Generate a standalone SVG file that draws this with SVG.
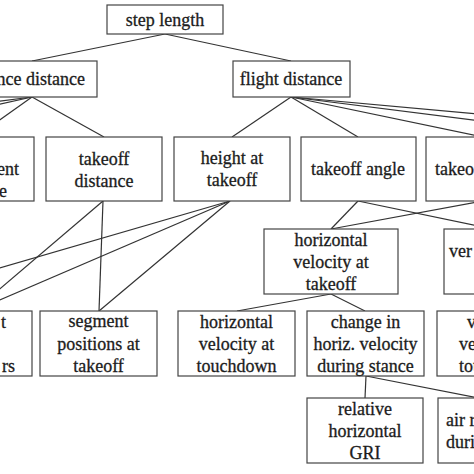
<svg xmlns="http://www.w3.org/2000/svg" width="474" height="474" viewBox="0 0 474 474">
<style>
.box{fill:#fff;stroke:#444;stroke-width:1.2}
.t{font-family:"Liberation Serif","Times New Roman",serif;font-size:18px;fill:#1c1c1c;stroke:#1c1c1c;stroke-width:0.3;text-anchor:middle}
.e{text-anchor:end}
.s{text-anchor:start}
#connectors line{stroke:#333;stroke-width:1.2}
</style>
<rect width="474" height="474" fill="#fff"/>
<g id="connectors">
<line x1="165" y1="34" x2="32" y2="61"/>
<line x1="165" y1="34" x2="291" y2="61"/>
<line x1="32" y1="97" x2="-274" y2="137"/>
<line x1="32" y1="97" x2="-149" y2="137"/>
<line x1="32" y1="97" x2="-24" y2="137"/>
<line x1="32" y1="97" x2="104" y2="137"/>
<line x1="291" y1="97" x2="232" y2="137"/>
<line x1="291" y1="97" x2="358" y2="137"/>
<line x1="291" y1="97" x2="483" y2="137"/>
<line x1="291" y1="97" x2="608" y2="137"/>
<line x1="291" y1="97" x2="733" y2="137"/>
<line x1="103" y1="201" x2="-26" y2="311"/>
<line x1="103" y1="201" x2="99" y2="311"/>
<line x1="230" y1="201" x2="-149" y2="311"/>
<line x1="230" y1="201" x2="-26" y2="311"/>
<line x1="230" y1="201" x2="99" y2="311"/>
<line x1="358" y1="201" x2="331" y2="229"/>
<line x1="358" y1="201" x2="493" y2="229"/>
<line x1="483" y1="201" x2="331" y2="229"/>
<line x1="331" y1="294" x2="237" y2="311"/>
<line x1="331" y1="294" x2="365" y2="311"/>
<line x1="366" y1="376" x2="365" y2="398"/>
<line x1="366" y1="376" x2="478" y2="398"/>
</g>
<g id="step-length"><rect class="box" x="107" y="5" width="116" height="29"/><text class="t" x="165" y="26">step length</text></g>
<g id="stance-distance"><rect class="box" x="-33" y="61" width="130" height="36"/><text class="t e" x="85" y="85">nce distance</text></g>
<g id="flight-distance"><rect class="box" x="233" y="61" width="117" height="36"/><text class="t" x="291" y="85">flight distance</text></g>
<g id="segment-left"><rect class="box" x="-83" y="137" width="117" height="64"/><text class="t e" x="19" y="175">ent</text><text class="t e" x="7" y="197">e</text></g>
<g id="takeoff-distance"><rect class="box" x="46" y="137" width="116" height="64"/><text class="t" x="104" y="165">takeoff</text><text class="t" x="104" y="187">distance</text></g>
<g id="height-at-takeoff"><rect class="box" x="174" y="137" width="116" height="64"/><text class="t" x="232" y="164">height at</text><text class="t" x="232" y="186">takeoff</text></g>
<g id="takeoff-angle"><rect class="box" x="301" y="137" width="115" height="64"/><text class="t" x="358" y="175">takeoff angle</text></g>
<g id="takeoff-right"><rect class="box" x="426" y="137" width="115" height="64"/><text class="t s" x="435" y="175">takeo</text></g>
<g id="horizontal-velocity-at-takeoff"><rect class="box" x="264" y="229" width="134" height="65"/><text class="t" x="331" y="245.5">horizontal</text><text class="t" x="331" y="267.5">velocity at</text><text class="t" x="331" y="289.5">takeoff</text></g>
<g id="vertical-velocity-at-takeoff"><rect class="box" x="444" y="229" width="134" height="65"/><text class="t s" x="449" y="257">ver</text></g>
<g id="left-bottom"><rect class="box" x="-85" y="311" width="117" height="65"/><text class="t e" x="6" y="327.5">t</text><text class="t e" x="15" y="371.5">rs</text></g>
<g id="segment-positions-at-takeoff"><rect class="box" x="40" y="311" width="117" height="65"/><text class="t" x="98.5" y="327">segment</text><text class="t" x="98.5" y="349.5">positions at</text><text class="t" x="98.5" y="371.5">takeoff</text></g>
<g id="horizontal-velocity-at-touchdown"><rect class="box" x="178" y="311" width="117" height="65"/><text class="t" x="236.5" y="327.5">horizontal</text><text class="t" x="236.5" y="349.5">velocity at</text><text class="t" x="236.5" y="371.5">touchdown</text></g>
<g id="change-in-horiz-velocity"><rect class="box" x="307" y="311" width="117" height="65"/><text class="t" x="365.5" y="327.5">change in</text><text class="t" x="365.5" y="349.5">horiz. velocity</text><text class="t" x="365.5" y="371.5">during stance</text></g>
<g id="vertical-velocity-at-touchdown"><rect class="box" x="437" y="311" width="118" height="65"/><text class="t s" x="467" y="327.5">v</text><text class="t s" x="459" y="349.5">ve</text><text class="t s" x="459" y="371.5">tou</text></g>
<g id="relative-horizontal-gri"><rect class="box" x="307" y="398" width="116" height="65"/><text class="t" x="365" y="414.5">relative</text><text class="t" x="365" y="436.5">horizontal</text><text class="t" x="365" y="458.5">GRI</text></g>
<g id="air-resistance"><rect class="box" x="438" y="398" width="117" height="65"/><text class="t s" x="446" y="425.5">air r</text><text class="t s" x="446" y="447.5">duri</text></g>
</svg>
